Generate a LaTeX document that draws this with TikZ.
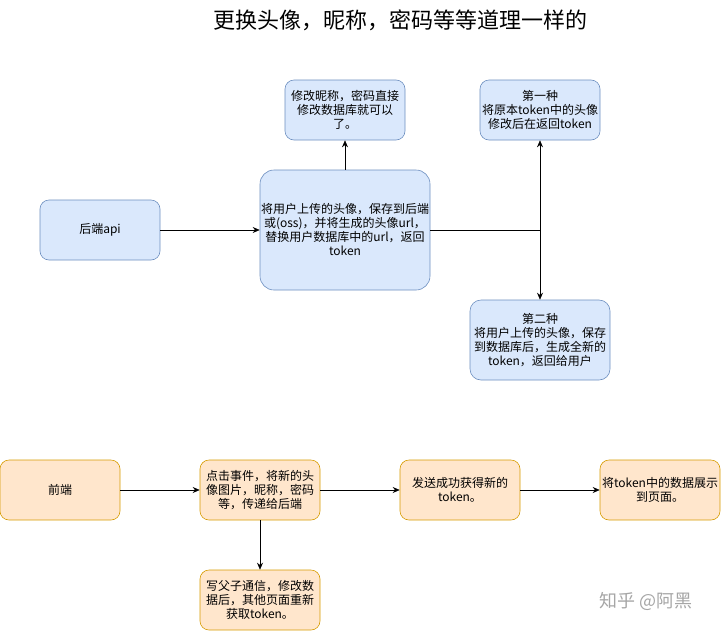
\documentclass[tikz,border=0pt]{standalone}
\usepackage{fontspec}
\setmainfont{Noto Sans CJK SC}
\usetikzlibrary{arrows.meta, positioning, calc}

\definecolor{blueFill}{HTML}{DAE8FC}
\definecolor{blueLine}{HTML}{6C8EBF}
\definecolor{orangeFill}{HTML}{FFE6CC}
\definecolor{orangeLine}{HTML}{D79B00}

\begin{document}
\begin{tikzpicture}[
  x=1pt, y=-1pt,
  % Default box style; colours supplied per node as bluebox / orangebox
  box/.style={
    rectangle, rounded corners=9pt,
    draw, semithick,
    align=center, inner sep=0pt,
    minimum width=120pt, minimum height=60pt,
    font=\fontsize{12}{14}\selectfont
  },
  bluebox/.style={box, fill=blueFill, draw=blueLine},
  orangebox/.style={box, fill=orangeFill, draw=orangeLine},
  arr/.style={-{Stealth[length=7pt,width=6pt]}, black, semithick},
]
\useasboundingbox (0,0) rectangle (722,632);

%% ── Title ──────────────────────────────────────────────────────────────────
\node[font=\fontsize{22}{26}\selectfont] (title) at (400,20)
  {更换头像，昵称，密码等等道理一样的};

%% ── Back end (blue) ────────────────────────────────────────────────────────
\node[bluebox] (api) at (100,230) {后端api};

\node[bluebox, minimum width=170pt, minimum height=120pt,
      rounded corners=14pt] (save) at (345,230) {
  将用户上传的头像，保存到后端\\
  或(oss)，并将生成的头像url，\\
  替换用户数据库中的url，返回\\
  token
};

\node[bluebox] (nick) at (345,110) {
  修改昵称，密码直接\\
  修改数据库就可以\\
  了。
};

\node[bluebox] (first) at (540,110) {
  第一种\\
  将原本token中的头像\\
  修改后在返回token
};

\node[bluebox, minimum width=140pt, minimum height=80pt,
      rounded corners=11pt] (second) at (540,340) {
  第二种\\
  将用户上传的头像，保存\\
  到数据库后，生成全新的\\
  token，返回给用户
};

%% ── Front end (orange) ─────────────────────────────────────────────────────
\node[orangebox] (front) at (60,490) {前端};

\node[orangebox] (click) at (260,490) {
  点击事件，将新的头\\
  像图片，昵称，密码\\
  等，传递给后端
};

\node[orangebox] (got) at (460,490) {
  发送成功获得新的\\
  token。
};

\node[orangebox] (show) at (660,490) {
  将token中的数据展示\\
  到页面。
};

\node[orangebox] (sync) at (260,600) {
  写父子通信，修改数\\
  据后，其他页面重新\\
  获取token。
};

%% ── Watermark ──────────────────────────────────────────────────────────────
\node[text=black!35, font=\fontsize{18}{20}\selectfont] (mark) at (646,601)
  {知乎 @阿黑};

%% ── Arrows ─────────────────────────────────────────────────────────────────
\coordinate (fork) at (first.south |- save.east);
\draw[arr] (api) -- (save);
\draw[arr] (save) -- (nick);
\draw[semithick] (save.east) -- (fork);
\draw[arr] (fork) -- (first);
\draw[arr] (fork) -- (second);

\draw[arr] (front) -- (click);
\draw[arr] (click) -- (got);
\draw[arr] (got)   -- (show);
\draw[arr] (click) -- (sync);

\end{tikzpicture}
\end{document}
